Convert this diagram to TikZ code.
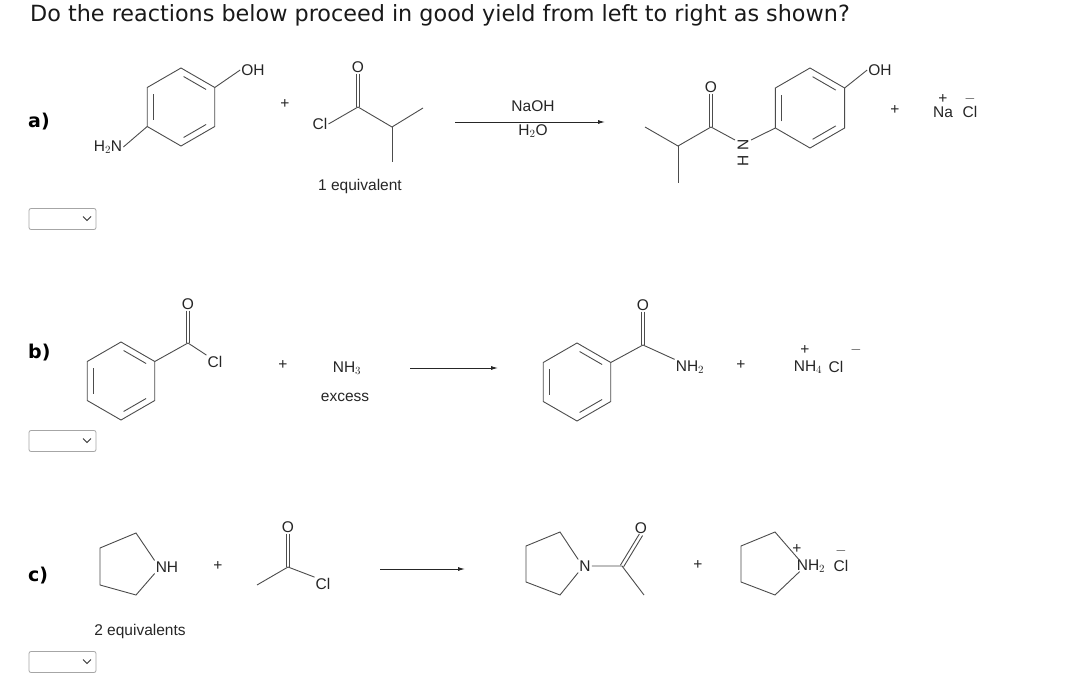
\documentclass[tikz,border=0pt]{standalone}
\usepackage{fontspec}
\setmainfont{Liberation Sans}
\newfontfamily\titlefont{DejaVu Sans}
\usetikzlibrary{calc,arrows.meta}
\definecolor{bondc}{gray}{0.3}
\tikzset{bond/.style={draw=bondc,line width=0.9pt},
 atom/.style={inner sep=1pt,font=\fontsize{15.5}{16}\selectfont,text=black!85},
 lbl/.style={inner sep=0pt,font=\titlefont\fontsize{19}{19}\selectfont\bfseries,anchor=west},
 rxn/.style={draw=black!85,line width=0.9pt,-{Latex[length=7pt,width=4pt]}},
 ddbox/.style={draw=gray!70,rounded corners=2pt,minimum width=67pt,minimum height=21pt,line width=0.8pt,inner sep=0pt}}
\newcommand{\benz}[4]{%
 \coordinate (#1c) at (#2,#3);
 \coordinate (#11) at (#2,#3-#4);
 \coordinate (#12) at (#2+0.866*#4,#3-0.5*#4);
 \coordinate (#13) at (#2+0.866*#4,#3+0.5*#4);
 \coordinate (#14) at (#2,#3+#4);
 \coordinate (#15) at (#2-0.866*#4,#3+0.5*#4);
 \coordinate (#16) at (#2-0.866*#4,#3-0.5*#4);
 \draw[bond] (#11)--(#12)--(#13)--(#14)--(#15)--(#16)--cycle;
 \draw[bond,shorten <=3pt,shorten >=3pt] ($(#1c)!0.82!(#11)$)--($(#1c)!0.82!(#12)$);
 \draw[bond,shorten <=3pt,shorten >=3pt] ($(#1c)!0.82!(#13)$)--($(#1c)!0.82!(#14)$);
 \draw[bond,shorten <=3pt,shorten >=3pt] ($(#1c)!0.82!(#15)$)--($(#1c)!0.82!(#16)$);}
\newcommand{\dbl}[2]{\draw[bond] ($(#1)+(-1.8,0)$)--($(#2)+(-1.8,0)$); \draw[bond] ($(#1)+(1.8,0)$)--($(#2)+(1.8,0)$);}
\begin{document}
\begin{tikzpicture}[x=1pt,y=-1pt]
\useasboundingbox (0,0) rectangle (1065,687);
\fill[white] (0,0) rectangle (1065,687);
\node[anchor=west,inner sep=0pt,font=\titlefont\fontsize{22.3}{23}\selectfont,text=black!90] (title) at (30,15) {Do the reactions below proceed in good yield from left to right as shown?};
% labels and boxes
\node[lbl] (la) at (28,122) {a)};
\node[lbl] (lb) at (28,353) {b)};
\node[lbl] (lc) at (28,576) {c)};
\foreach \n/\y in {da/219,db/441,dc/662}{
 \node[ddbox] (\n) at (62.5,\y) {};
 \draw[black!80,line width=1pt] (83,\y-2.5)--(87,\y+1.5)--(91,\y-2.5);}
%% ---- row a
\benz{ra}{181}{107}{39}
\node[atom] (aOH) at (253,70) {OH};
\draw[bond] (ra2)--(aOH.west);
\node[atom] (aNH2) at (108,147) {H$_2$N};
\draw[bond] (ra5)--(aNH2.east);
\node[atom] (p1) at (285,104) {+};
\coordinate (ac) at (358,107);
\node[atom] (aO) at (358,67) {O};
\dbl{aO.south}{ac}
\node[atom] (aCl) at (320,124) {Cl};
\draw[bond] (ac)--(aCl.east);
\coordinate (ach) at (392,127);
\draw[bond] (ac)--(ach)--(423,108); \draw[bond] (ach)--(392,162);
\node[atom] (eq1) at (360,186) {1 equivalent};
\coordinate (arA1) at (455,122); \coordinate (arA2) at (605,122);
\draw[rxn] (arA1)--(arA2);
\node[atom] (naoh) at (533,106) {NaOH};
\node[atom] (h2o) at (533,131) {H$_2$O};
\benz{rp}{810}{108}{40}
\coordinate (pch) at (678,146);
\coordinate (pc) at (711,127);
\draw[bond] (645,127)--(pch)--(pc); \draw[bond] (pch)--(678,183);
\node[atom] (pO) at (711,87) {O};
\dbl{pO.south}{pc}
\node[atom,inner sep=0pt] (pN) at (743,145) {\rotatebox{90}{N}};
\node[atom,inner sep=0pt] (pH) at (743,161) {\rotatebox{90}{H}};
\draw[bond] (pc)--(735,140);
\draw[bond] (751,140)--(rp5);
\node[atom] (pOH) at (880,70) {OH};
\draw[bond] (rp2)--(pOH.west);
\node[atom] (p2) at (895,110) {+};
\node[atom] (na) at (943,112) {Na};
\node[atom] (nap) at (943,99) {+};
\node[atom] (cl1) at (970,112) {Cl};
\node[atom] (clm) at (970,99) {$-$};
%% ---- row b
\benz{rb}{121}{381}{39}
\coordinate (bc) at (188,343);
\draw[bond] (rb2)--(bc);
\node[atom] (bO) at (188,304) {O};
\dbl{bO.south}{bc}
\node[atom] (bCl) at (215,362) {Cl};
\draw[bond] (bc)--(bCl.north west);
\node[atom] (p3) at (283,365) {+};
\node[atom] (nh3) at (347,368) {NH$_3$};
\node[atom] (exc) at (345,397) {excess};
\coordinate (arB1) at (410,368); \coordinate (arB2) at (498,368);
\draw[rxn] (arB1)--(arB2);
\benz{rbp}{577}{382}{39}
\coordinate (bpc) at (643,345);
\draw[bond] (rbp2)--(bpc);
\node[atom] (bpO) at (643,305) {O};
\dbl{bpO.south}{bpc}
\node[atom] (bNH2) at (690,367) {NH$_2$};
\draw[bond] (bpc)--(bNH2.north west);
\node[atom] (p4) at (741,365) {+};
\node[atom] (nh4) at (808,367) {NH$_4$};
\node[atom] (nh4p) at (805,350) {+};
\node[atom] (cl2) at (836,367) {Cl};
\node[atom] (cl2m) at (856,350) {$-$};
%% ---- row c
\coordinate (c1) at (100,548); \coordinate (c2) at (136,533);
\coordinate (c4) at (136,595); \coordinate (c5) at (100,585);
\node[atom] (cNH) at (167,567) {NH};
\draw[bond] (cNH.north west)--(c2)--(c1)--(c5)--(c4)--(cNH.south west);
\node[atom] (p5) at (218,566) {+};
\coordinate (cc) at (288,567);
\node[atom] (cO) at (288,527) {O};
\dbl{cO.south}{cc}
\draw[bond] (cc)--(257,585);
\node[atom] (cCl) at (323,584) {Cl};
\draw[bond] (cc)--(cCl.north west);
\node[atom] (eq2) at (140,631) {2 equivalents};
\coordinate (arC1) at (380,569); \coordinate (arC2) at (465,569);
\draw[rxn] (arC1)--(arC2);
\coordinate (d1) at (526,546); \coordinate (d2) at (560,532);
\coordinate (d4) at (560,595); \coordinate (d5) at (526,582);
\node[atom] (dN) at (585,566) {N};
\draw[bond] (dN.north west)--(d2)--(d1)--(d5)--(d4)--(dN.south west);
\coordinate (dc) at (622,566);
\draw[bond] (dN.east)--(dc)--(644,595);
\node[atom] (dO) at (641,528) {O};
\draw[bond] ($(dc)+(-1.6,-0.8)$)--($(dO.south)+(-1.6,-0.8)$);
\draw[bond] ($(dc)+(1.6,0.8)$)--($(dO.south)+(1.6,0.8)$);
\node[atom] (p6) at (698,565) {+};
\coordinate (e1) at (741,546); \coordinate (e2) at (775,532);
\coordinate (e4) at (775,595); \coordinate (e5) at (741,582);
\node[atom] (eNH2) at (811,566) {NH$_2$};
\node[atom] (eNp) at (797,549) {+};
\draw[bond] ($(eNH2.north west)+(4,2)$)--(e2)--(e1)--(e5)--(e4)--($(eNH2.south west)+(4,-2)$);
\node[atom] (cl3) at (841,566) {Cl};
\node[atom] (cl3m) at (841,551) {$-$};
\end{tikzpicture}
\end{document}
